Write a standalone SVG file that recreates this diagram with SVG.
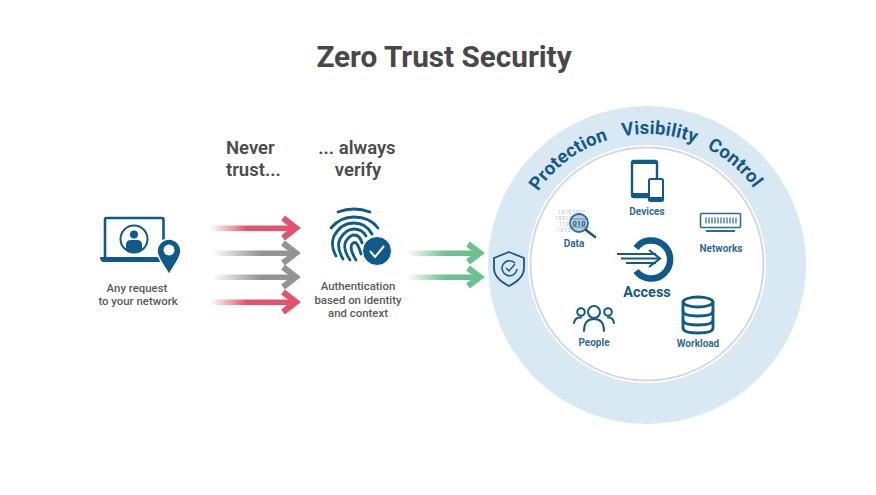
<svg xmlns="http://www.w3.org/2000/svg" width="876" height="495" viewBox="0 0 876 495">
<style>
text{font-family:Roboto,"Liberation Sans",sans-serif;font-weight:700}
.head{font-size:18.500px;fill:#4b4b4b;font-weight:600}
.lab{font-size:11.400px;fill:#5a5a5a;text-anchor:middle;font-weight:500}
.blue{font-size:10px;fill:#2f6b96;text-anchor:middle}
.arc{font-size:18.500px;fill:#14598a;text-anchor:middle;letter-spacing:.2px}
.ln{fill:none;stroke:#0f5a8a;stroke-width:2.800;stroke-linecap:round;stroke-linejoin:round}
.thin{fill:none;stroke:#14598a;stroke-width:2;stroke-linecap:round;stroke-linejoin:round}
.solid{fill:#0f5a8a}
.chev{fill:none;stroke-width:6;stroke-linejoin:miter}
.bin{font-size:4.800px;fill:#9dbcd3;font-weight:400;letter-spacing:.8px}
</style>
<defs>
<linearGradient id="gr"><stop offset="0" stop-color="#e2526c" stop-opacity="0"/><stop offset=".45" stop-color="#e2526c"/><stop offset="1" stop-color="#e2526c"/></linearGradient>
<linearGradient id="gy"><stop offset="0" stop-color="#949494" stop-opacity="0"/><stop offset=".6" stop-color="#949494"/><stop offset="1" stop-color="#949494"/></linearGradient>
<linearGradient id="gg"><stop offset="0" stop-color="#6cc18f" stop-opacity="0"/><stop offset=".55" stop-color="#6cc18f"/><stop offset="1" stop-color="#6cc18f"/></linearGradient>
<path id="arcPath" d="M515 266A132 132 0 0 1 779 266"/>
</defs>
<rect width="876" height="495" fill="#fff"/>
<text x="444" y="67" text-anchor="middle" fill="#484848" style="font-size:29.700px">Zero Trust Security</text>
<text class="head" x="226" y="154">Never</text>
<text class="head" x="226" y="176">trust...</text>
<text class="head" x="357" y="154" text-anchor="middle">... always</text>
<text class="head" x="358" y="176" text-anchor="middle">verify</text>

<g id="connectors">
<rect x="210" y="225.500" width="83" height="5.500" fill="url(#gr)"/><path class="chev" stroke="#e2526c" d="M283 218L296 228L283 238"/>
<rect x="212" y="250.500" width="81" height="5.500" fill="url(#gy)"/><path class="chev" stroke="#949494" d="M283 243L296 253L283 263"/>
<rect x="212" y="274.500" width="81" height="5.500" fill="url(#gy)"/><path class="chev" stroke="#949494" d="M283 267L296 277L283 287"/>
<rect x="210" y="299.500" width="83" height="5.500" fill="url(#gr)"/><path class="chev" stroke="#e2526c" d="M283 292L296 302L283 312"/>
<rect x="407" y="250.500" width="71" height="5.500" fill="url(#gg)"/><path class="chev" stroke="#6cc18f" d="M468 244L480 253L468 262"/>
<rect x="407" y="274.500" width="71" height="5.500" fill="url(#gg)"/><path class="chev" stroke="#6cc18f" d="M468 268L480 277L468 286"/>
</g>

<g id="request">
<path d="M105 258V219.500Q105 218 106.500 218H162Q163.500 218 163.500 219.500V240" fill="none" stroke="#0f5a8a" stroke-width="2.600"/>
<path class="solid" d="M100 257H160V262H104Q100 262 100 257Z"/>
<circle cx="134" cy="239" r="13.500" fill="none" stroke="#0f5a8a" stroke-width="2"/>
<circle class="solid" cx="134" cy="234.500" r="4"/>
<path class="solid" d="M126 250V245Q126 240 131 240H137Q142 240 142 245V250Q134 254 126 250Z"/>
<path class="solid" stroke="#fff" stroke-width="1.500" d="M169 239C162 239 157 245 157 251C157 258 165 267 169 275C173 267 181 258 181 251C181 245 176 239 169 239Z"/>
<circle cx="169" cy="250" r="5.500" fill="#fff"/>
<text class="lab" x="137" y="292">Any request</text>
<text class="lab" x="138" y="305">to your network</text>
</g>

<g id="auth">
<path class="ln" d="M338 212Q354 206 370 212"/>
<path class="ln" d="M331 228Q340 217 354 217Q370 217 378 228"/>
<path class="ln" d="M336 256Q330 245 334 236Q341 223 354 223Q366 223 372 234"/>
<path class="ln" d="M343 259Q336 247 340 239Q346 229 354 229Q362 229 366 236"/>
<path class="ln" d="M350 260Q342 248 346 241Q350 235 354 235Q360 235 362 243"/>
<path class="ln" d="M356 260Q349 249 352 244Q355 241 357 244Q359 247 361 254"/>
<circle class="solid" cx="377" cy="251" r="14.500" stroke="#fff" stroke-width="1"/>
<path d="M370 251L375 257L384 246" fill="none" stroke="#fff" stroke-width="2"/>
<text class="lab" x="358" y="290">Authentication</text>
<text class="lab" x="358" y="303.500">based on identity</text>
<text class="lab" x="358" y="317">and context</text>
</g>

<g id="ring">
<circle cx="647" cy="265" r="159" fill="#d9e9f3"/>
<circle cx="647" cy="264" r="119" fill="#fff"/>
<circle cx="647" cy="264" r="116.500" fill="none" stroke="#d8d8d8" stroke-width="2"/>
<text class="arc"><textPath href="#arcPath" startOffset="29.800%">Protection</textPath></text>
<text class="arc"><textPath href="#arcPath" startOffset="53%">Visibility</textPath></text>
<text class="arc"><textPath href="#arcPath" startOffset="72.500%">Control</textPath></text>
</g>

<g id="shield">
<path d="M509 252L524 258V268C524 277 517 282 509 286C501 282 494 277 494 268V258Z" fill="none" stroke="#14598a" stroke-width="1.800" stroke-linejoin="round"/>
<path d="M515 263A7.500 7.500 0 1 0 517 269" fill="none" stroke="#14598a" stroke-width="1.500"/>
<path d="M506 268L509 271L515 264" fill="none" stroke="#14598a" stroke-width="1.500"/>
</g>

<g id="devices">
<rect x="632" y="161" width="25" height="36" rx="2" fill="none" stroke="#0f5a8a" stroke-width="2.400"/>
<rect x="632" y="161" width="25" height="3" fill="#0f5a8a"/>
<rect x="632" y="193" width="25" height="4" fill="#0f5a8a"/>
<rect x="649" y="179" width="14" height="22" rx="1.500" fill="#fff" stroke="#0f5a8a" stroke-width="2"/>
<rect x="649" y="197" width="14" height="4" fill="#0f5a8a"/>
<text class="blue" x="647" y="215">Devices</text>
</g>

<g id="networks">
<rect x="700.500" y="213.500" width="40" height="14" rx="1" fill="none" stroke="#2f6b96" stroke-width="1.600"/>
<path d="M706 217.500V223.500M709 217.500V223.500M712 217.500V223.500M715 217.500V223.500M718 217.500V223.500M721 217.500V223.500M724 217.500V223.500M727 217.500V223.500M730 217.500V223.500M733 217.500V223.500M736 217.500V223.500" stroke="#2f6b96" stroke-width="1.200"/>
<rect x="706" y="230" width="29" height="2" fill="#2f6b96"/>
<text class="blue" x="721" y="252">Networks</text>
</g>

<g id="data">
<text class="bin" x="558" y="213.500">10101001</text>
<text class="bin" x="555" y="219.500">10010</text>
<text class="bin" x="559" y="225.500">110</text>
<text class="bin" x="557" y="231.500">1010</text>
<circle cx="579" cy="223" r="9" fill="#b9d0e1" stroke="#2f6b96" stroke-width="1.800"/>
<path d="M570 219H588M570 227H588" stroke="#2f6b96" stroke-width=".7"/>
<text x="579" y="226" text-anchor="middle" fill="#14598a" style="font-size:7.500px">010</text>
<path d="M586 230L595 237" stroke="#14598a" stroke-width="2.600" stroke-linecap="round"/>
<text class="blue" x="574" y="247">Data</text>
</g>

<g id="access">
<path d="M636 248A19 19 0 1 1 636 271" fill="none" stroke="#0f5a8a" stroke-width="6.500"/>
<path d="M617 254H656M621 258.500H660M626 263H656" stroke="#14598a" stroke-width="2" fill="none"/>
<path d="M649 250L660 258.500L649 267" fill="none" stroke="#14598a" stroke-width="2.200"/>
<text x="647" y="297" text-anchor="middle" fill="#14598a" style="font-size:14.500px">Access</text>
</g>

<g id="people">
<circle cx="594" cy="312" r="6" class="thin"/>
<circle cx="581" cy="312" r="3.800" class="thin"/>
<circle cx="608" cy="312" r="3.800" class="thin"/>
<path class="thin" d="M584 331Q584 319 594 319Q604 319 604 331"/>
<path class="thin" d="M574 323Q575 317 581 317.500"/>
<path class="thin" d="M614 323Q613 317 608 317.500"/>
<text class="blue" x="594" y="346">People</text>
</g>

<g id="workload">
<ellipse cx="698" cy="302" rx="15" ry="5" class="ln"/>
<path class="ln" d="M683 302V328Q683 333 698 333Q713 333 713 328V302"/>
<path class="ln" d="M683 311Q683 316 698 316Q713 316 713 311M683 320Q683 325 698 325Q713 325 713 320"/>
<text class="blue" x="698" y="347">Workload</text>
</g>
</svg>
